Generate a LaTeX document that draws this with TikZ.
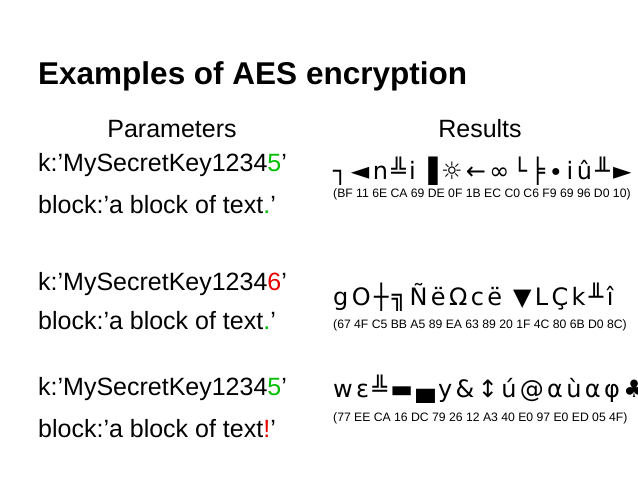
\documentclass[tikz,border=0pt]{standalone}
\usepackage{fontspec}
\setmainfont{Liberation Sans}
\newfontfamily\dvs[LetterSpace=14]{DejaVu Sans}
\newcommand\qq{\char39\relax}
\definecolor{grn}{RGB}{0,190,0}
\definecolor{rd}{RGB}{230,0,0}
\begin{document}
\begin{tikzpicture}[x=1pt,y=-1pt,
  par/.style={anchor=base west,inner sep=0pt,font=\fontsize{25}{28}\selectfont},
  res/.style={anchor=base west,inner sep=0pt,font=\dvs\fontsize{24}{28}\selectfont},
  hex/.style={anchor=base west,inner sep=0pt,font=\fontsize{12.2}{14}\selectfont}]
\useasboundingbox (0,0) rectangle (638,478);
\node[anchor=base west,inner sep=0pt,font=\bfseries\fontsize{31.5}{34}\selectfont] (title) at (38,85) {Examples of AES encryption};
\node[anchor=base,inner sep=0pt,font=\fontsize{25}{28}\selectfont] (ph) at (172,138) {Parameters};
\node[anchor=base,inner sep=0pt,font=\fontsize{25}{28}\selectfont] (rh) at (480,138) {Results};
\node[par] (k1) at (38,172) {k:\qq MySecretKey1234\textcolor{grn}{5}\qq};
\node[par] (b1) at (38,214) {block:\qq a block of text\textcolor{grn}{.}\qq};
\node[par] (k2) at (38,291) {k:\qq MySecretKey1234\textcolor{rd}{6}\qq};
\node[par] (b2) at (38,330) {block:\qq a block of text\textcolor{grn}{.}\qq};
\node[par] (k3) at (38,396) {k:\qq MySecretKey1234\textcolor{grn}{5}\qq};
\node[par] (b3) at (38,438) {block:\qq a block of text\textcolor{rd}{!}\qq};
\node[res] (r1) at (333,180) {┐◄n╩i▐☼←∞└╞∙iû╨►};
\node[hex] (h1) at (333,198) {(BF 11 6E CA 69 DE 0F 1B EC C0 C6 F9 69 96 D0 10)};
\node[res] (r2) at (333,306) {gO┼╗ÑëΩcë ▼LÇk╨î};
\node[hex] (h2) at (333,329) {(67 4F C5 BB A5 89 EA 63 89 20 1F 4C 80 6B D0 8C)};
\node[res] (r3) at (333,398) {wε╩▬▄y\&↕ú@αùαφ♣O};
\node[hex] (h3) at (333,422) {(77 EE CA 16 DC 79 26 12 A3 40 E0 97 E0 ED 05 4F)};
\end{tikzpicture}
\end{document}
